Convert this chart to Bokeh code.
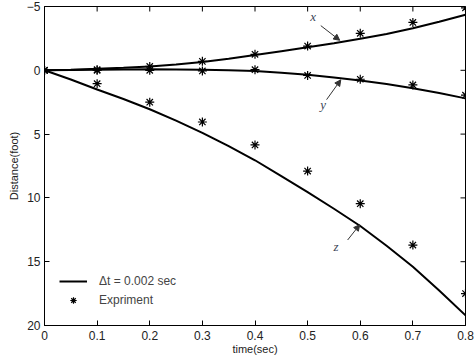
import math
from bokeh.plotting import figure
from bokeh.models import (Range1d, FixedTicker, Legend, LegendItem,
                          Arrow, NormalHead, Label)
from bokeh.embed import file_html
from bokeh.resources import INLINE

# simulated curves (dt = 0.002 sec), read at 0.05 s steps
t_sim = [0, 0.05, 0.1, 0.15, 0.2, 0.25, 0.3, 0.35, 0.4, 0.45, 0.5, 0.55, 0.6, 0.65, 0.7, 0.75, 0.8]
x_sim = [0, -0.05, -0.12, -0.2, -0.3, -0.45, -0.65, -0.9, -1.2, -1.5, -1.8, -2.12, -2.47, -2.85, -3.3, -3.8, -4.35]
y_sim = [0, -0.03, -0.05, -0.07, -0.08, -0.07, -0.05, 0.0, 0.05, 0.2, 0.35, 0.57, 0.8, 1.08, 1.4, 1.78, 2.2]
z_sim = [0, 0.72, 1.5, 2.25, 3.05, 3.95, 4.9, 5.95, 7.05, 8.3, 9.55, 10.85, 12.2, 13.75, 15.4, 17.25, 19.2]

# experiment
t_exp = [0, 0.1, 0.2, 0.3, 0.4, 0.5, 0.6, 0.7, 0.8]
x_exp = [0, -0.05, -0.3, -0.7, -1.25, -1.9, -2.9, -3.75, -4.9]
y_exp = [0, 0.0, 0.0, 0.05, -0.05, 0.4, 0.7, 1.15, 1.95]
z_exp = [0, 1.05, 2.5, 4.05, 5.85, 7.9, 10.45, 13.7, 17.5]

x_ticks = [0, 0.1, 0.2, 0.3, 0.4, 0.5, 0.6, 0.7, 0.8]
y_ticks = [-5, 0, 5, 10, 15, 20]

FONT = "Liberation Sans"

p = figure(width=474, height=357, output_backend="svg", toolbar_location=None,
           x_range=Range1d(x_ticks[0], x_ticks[-1]), y_range=Range1d(y_ticks[-1], y_ticks[0]),
           min_border_left=44, min_border_right=9, min_border_top=6, min_border_bottom=31)
p.xgrid.visible = False
p.ygrid.visible = False
p.outline_line_color = "black"
p.outline_line_width = 1
p.background_fill_color = "white"
p.border_fill_color = "white"

for ax in (p.xaxis[0], p.yaxis[0]):
    ax.major_tick_in = 5
    ax.major_tick_out = 0
    ax.minor_tick_in = 0
    ax.minor_tick_out = 0
    ax.axis_line_color = "black"
    ax.major_label_text_font = FONT
    ax.major_label_text_font_size = "12px"
    ax.major_label_text_color = "#222222"
    ax.axis_label_text_font = FONT
    ax.axis_label_text_font_size = "11px"
    ax.axis_label_text_font_style = "normal"
    ax.axis_label_text_color = "#222222"

p.xaxis[0].ticker = FixedTicker(ticks=x_ticks)
p.yaxis[0].ticker = FixedTicker(ticks=y_ticks)
p.xaxis[0].axis_label = "time(sec)"
p.yaxis[0].axis_label = "Distance(foot)"
p.xaxis[0].major_label_standoff = 5
p.xaxis[0].axis_label_standoff = 0
p.yaxis[0].major_label_standoff = 4
p.yaxis[0].axis_label_standoff = 4

# inward tick marks on the top and right edges of the box (clipped to the frame)
p.scatter(x_ticks, [y_ticks[0]] * len(x_ticks), marker="dash", angle=math.pi / 2,
          size=10, line_color="black", line_width=1)
p.scatter([x_ticks[-1]] * len(y_ticks), y_ticks, marker="dash",
          size=10, line_color="black", line_width=1)

lw = 2
l1 = p.line(t_sim, x_sim, line_color="black", line_width=lw)
p.line(t_sim, y_sim, line_color="black", line_width=lw)
p.line(t_sim, z_sim, line_color="black", line_width=lw)

ms = 9
mlw = 1.2
s1 = p.scatter(t_exp, x_exp, marker="asterisk", size=ms, line_color="black", line_width=mlw)
p.scatter(t_exp, y_exp, marker="asterisk", size=ms, line_color="black", line_width=mlw)
p.scatter(t_exp, z_exp, marker="asterisk", size=ms, line_color="black", line_width=mlw)

# annotations
ann_col = "#3b4656"
for (lx, ly, txt, ax0, ay0, ax1, ay1) in [
        (0.505, -3.6, "x", 0.525, -3.5, 0.561, -2.35),
        (0.524, 3.3, "y", 0.536, 2.3, 0.563, 0.75),
        (0.549, 14.4, "z", 0.576, 13.3, 0.599, 12.1)]:
    p.add_layout(Label(x=lx, y=ly, text=txt, text_font="Liberation Serif",
                       text_font_style="italic", text_font_size="13px",
                       text_color=ann_col))
    p.add_layout(Arrow(x_start=ax0, y_start=ay0, x_end=ax1, y_end=ay1,
                       line_color="#333333", line_width=1,
                       end=NormalHead(size=6, fill_color="#333333", line_color="#333333")))

legend = Legend(items=[LegendItem(label="\u0394t = 0.002 sec", renderers=[l1]),
                       LegendItem(label="Expriment", renderers=[s1])],
                location=(15, 17), border_line_color=None, background_fill_alpha=0,
                label_text_font=FONT, label_text_font_size="12px",
                glyph_width=28, glyph_height=16, label_standoff=12, spacing=3,
                padding=5, margin=0)
p.add_layout(legend)

open("out.html", "w").write(file_html(p, INLINE))
